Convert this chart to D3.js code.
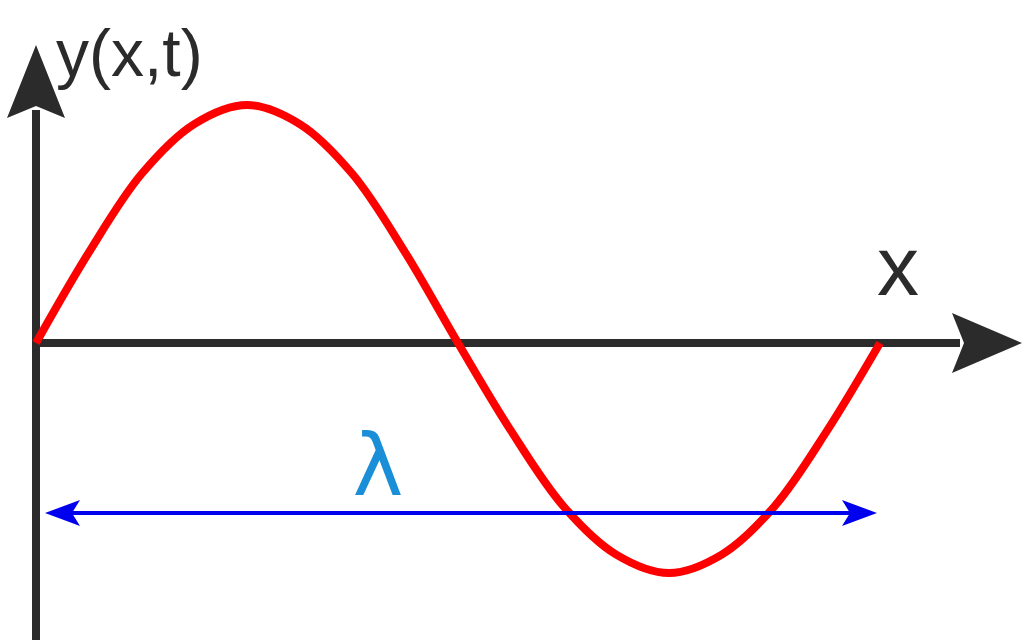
<!DOCTYPE html>
<html>
<head>
<meta charset="utf-8">
<script src="https://cdn.jsdelivr.net/npm/d3@7"></script>
<style>
  body { margin: 0; background: #fff; }
  svg { display: block; }
</style>
</head>
<body>
<div id="chart"></div>
<script>
// wave: phase (fraction of one wavelength) and displacement
const phase = [0, 0.0625, 0.125, 0.1875, 0.25, 0.3125, 0.375, 0.4375, 0.5,
               0.5625, 0.625, 0.6875, 0.75, 0.8125, 0.875, 0.9375, 1];
const displacement = [0, 0.38, 0.71, 0.92, 1, 0.92, 0.71, 0.38, 0,
                      -0.38, -0.71, -0.92, -1, -0.92, -0.71, -0.38, 0];
const axisLabels = ["y(x,t)", "x"];
const waveLabel = "λ";

const width = 1024, height = 640;
const dark = "#2b2b2b";

const svg = d3.select("#chart").append("svg")
    .attr("width", width)
    .attr("height", height);

const x = d3.scaleLinear().domain([0, 1]).range([36, 880]);
const y = d3.scaleLinear().domain([-1, 0, 1]).range([573, 343, 105]);

// axes
svg.append("line")
    .attr("x1", x(0)).attr("x2", x(0))
    .attr("y1", height).attr("y2", 110)
    .attr("stroke", dark).attr("stroke-width", 8);
svg.append("path")
    .attr("d", `M${x(0)},45 L${x(0) + 29},118 L${x(0)},106 L${x(0) - 29},118 Z`)
    .attr("fill", dark);

svg.append("line")
    .attr("x1", x(0)).attr("x2", 960)
    .attr("y1", y(0)).attr("y2", y(0))
    .attr("stroke", dark).attr("stroke-width", 8);
svg.append("path")
    .attr("d", `M1022,${y(0)} L952,${y(0) - 30} L964,${y(0)} L952,${y(0) + 30} Z`)
    .attr("fill", dark);

// the wave
const line = d3.line()
    .x((d, i) => x(phase[i]))
    .y(d => y(d))
    .curve(d3.curveCatmullRom);

svg.append("path")
    .datum(displacement)
    .attr("d", line)
    .attr("fill", "none")
    .attr("stroke", "#ff0000")
    .attr("stroke-width", 8);

// wavelength arrow
const ay = 513;
svg.append("line")
    .attr("x1", 60).attr("x2", 862)
    .attr("y1", ay).attr("y2", ay)
    .attr("stroke", "#0000ee").attr("stroke-width", 4);
svg.append("path")
    .attr("d", `M45,${ay} L80,${ay - 13} L72,${ay} L80,${ay + 13} Z`)
    .attr("fill", "#0000ee");
svg.append("path")
    .attr("d", `M877,${ay} L842,${ay - 13} L850,${ay} L842,${ay + 13} Z`)
    .attr("fill", "#0000ee");

// labels
svg.append("text")
    .attr("x", 56).attr("y", 76)
    .attr("font-family", "Liberation Sans, Arial, sans-serif")
    .attr("font-size", 66)
    .attr("fill", dark)
    .text(axisLabels[0]);

svg.append("text")
    .attr("x", 898).attr("y", 295)
    .attr("text-anchor", "middle")
    .attr("font-family", "Liberation Sans, Arial, sans-serif")
    .attr("font-size", 84)
    .attr("fill", dark)
    .text(axisLabels[1]);

svg.append("text")
    .attr("x", 378).attr("y", 495)
    .attr("text-anchor", "middle")
    .attr("font-family", "DejaVu Sans, sans-serif")
    .attr("font-size", 86)
    .attr("fill", "#1a8fd8")
    .text(waveLabel);
</script>
</body>
</html>
